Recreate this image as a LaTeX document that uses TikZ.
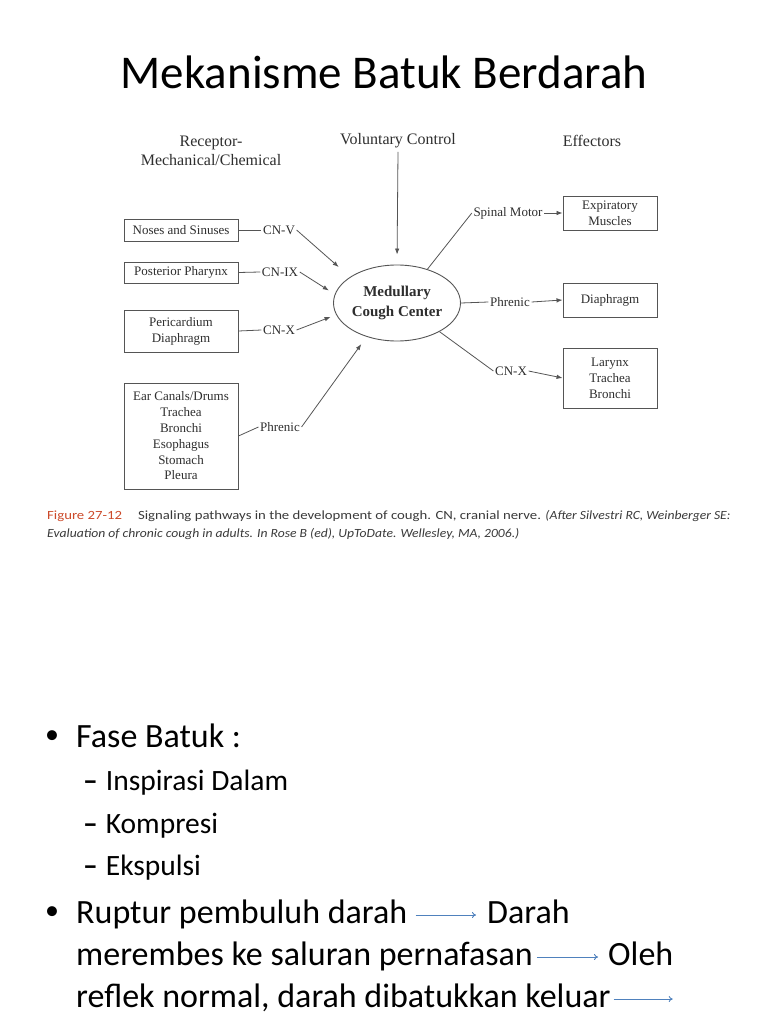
\documentclass[tikz,border=0pt]{standalone}
\usepackage{fontspec}
\setmainfont{Carlito}
\newfontfamily\figfont{Liberation Serif}
\newfontfamily\capfont[FakeStretch=1.18]{Carlito}
\newfontfamily\capitfont[FakeStretch=1.09]{Carlito}
\usetikzlibrary{arrows.meta, shapes.geometric, positioning}
\definecolor{figink} {HTML}{2E2E2E}
\definecolor{figline}{HTML}{555555}
\definecolor{figred} {HTML}{CC4A2A}
\definecolor{capink} {HTML}{3A3A3A}
\definecolor{arrowblue}{HTML}{4F81BD}
\newcommand{\capit}[1]{{\capitfont\itshape #1}}
\tikzset{
  rbox/.style   = {draw=figline, line width=0.9pt, minimum width=114pt,
                   align=center, inner sep=1pt, text=figink,
                   font=\figfont\fontsize{13}{15.8}\selectfont},
  ebox/.style   = {rbox, minimum width=94pt,
                   font=\figfont\fontsize{13}{16}\selectfont},
  nerve/.style  = {font=\figfont\fontsize{13}{15}\selectfont,
                   text=figink, inner sep=1.5pt},
  head/.style   = {font=\figfont\fontsize{16}{19}\selectfont,
                   text=figink, align=center},
  ln/.style     = {draw=figline, line width=0.8pt},
  arr/.style    = {ln, -{Latex[length=6pt,width=4.5pt]}},
  capt/.style   = {anchor=base west, inner sep=0pt, text=capink,
                   font=\capfont\fontsize{12.5}{15}\selectfont},
  bul/.style    = {anchor=base west, inner sep=0pt,
                   font=\fontsize{34}{40}\selectfont,
                   text height=23pt, text depth=7pt},
  subbul/.style = {bul, font=\fontsize{29.5}{35}\selectfont},
  dot/.style    = {bul, font=\fontsize{28}{32}\selectfont},
  barr/.style   = {-{To[length=4pt,width=6pt]}, draw=arrowblue,
                   line width=0.9pt},
}

\begin{document}
\begin{tikzpicture}[x=1pt, y=-1pt]

  \fill[white] (0,0) rectangle (768,1024);
  \useasboundingbox (0,0) rectangle (768,1024);

  % title
  \node[font=\fontsize{47}{56}\selectfont, anchor=base] (title) at (384,89)
    {Mekanisme Batuk Berdarah};

  % column heads
  \node[head] (rec) at (211,150.5) {Receptor-\\Mechanical/Chemical};
  \node[head] (vol) at (398,141) {Voluntary Control};
  \node[head] (eff) at (592,141) {Effectors};

  % receptors
  \node[rbox, minimum height=22pt] (noses) at (181,230) {Noses and Sinuses};
  \node[rbox, minimum height=21pt] (phar)  at (181,272.5) {Posterior Pharynx};
  \node[rbox, minimum height=42pt] (peri)  at (181,331) {Pericardium\\Diaphragm};
  \node[rbox, minimum height=106pt] (ear)  at (181,436)
    {Ear Canals/Drums\\Trachea\\Bronchi\\Esophagus\\Stomach\\Pleura};

  % afferent nerves
  \node[nerve] (cnv)  at (279,230) {CN-V};
  \node[nerve] (cnix) at (280,272) {CN-IX};
  \node[nerve] (cnx)  at (279,330) {CN-X};
  \node[nerve] (phrl) at (280,427) {Phrenic};

  % cough center
  \node[ellipse, draw=figline, line width=0.9pt, minimum width=127pt,
        minimum height=76pt, inner xsep=-3pt, inner ysep=0pt, align=center,
        font=\figfont\bfseries\fontsize{15}{20}\selectfont, text=figink]
    (core) at (397,303) {Medullary\\Cough Center};

  % efferent nerves
  \node[nerve] (spin) at (508,213) {Spinal Motor};
  \node[nerve] (phrr) at (510,302) {Phrenic};
  \node[nerve] (cnxr) at (511,371) {CN-X};

  % effectors
  \node[ebox, minimum height=34pt] (expi) at (610,213) {Expiratory\\Muscles};
  \node[ebox, minimum height=34pt] (diap) at (610,300) {Diaphragm};
  \node[ebox, minimum height=60pt] (lary) at (610,378) {Larynx\\Trachea\\Bronchi};

  % receptor side
  \draw[ln] (noses.east) -- (cnv.west);
  \draw[ln] (phar.east)  -- (cnix.west);
  \draw[ln] (peri.east)  -- (cnx.west);
  \draw[ln] (ear.east)   -- (phrl.west);
  \draw[arr, shorten >=15pt] (cnv.east)  -- (core.151);
  \draw[arr, shorten >=7pt]  (cnix.east) -- (core.172);
  \draw[arr, shorten >=6pt]  (cnx.east)  -- (core.191);
  \draw[arr, shorten >=9pt]  (phrl.east) -- (core.228);
  \draw[arr, shorten >=10pt] (vol.south) -- (core.north);

  % effector side
  \draw[ln] (core.48)  -- (spin.west);
  \draw[ln] (core.east) -- (phrr.west);
  \draw[ln] (core.326) -- (cnxr.west);
  \draw[arr] (spin.east) -- (expi.west);
  \draw[arr] (phrr.east) -- (diap.west);
  \draw[arr] (cnxr.east) -- (lary.west);

  % caption
  \node[capt] (cap1) at (47,519)
    {\textcolor{figred}{Figure 27-12}\hspace{16pt}Signaling pathways in the
     development of cough. CN, cranial nerve. \capit{(After Silvestri RC,
     Weinberger SE:}};
  \node[capt] (cap2) at (47,537)
    {\capit{Evaluation of chronic cough in adults. In Rose B (ed), UpToDate.
     Wellesley, MA, 2006.)}};

  % bullets
  \node[dot]  (dot1) at (45,743) {•};
  \node[bul]  (fase) at (76,747) {Fase Batuk :};
  \node[subbul] (insp) at (83,790) {\textbf{–}\hspace{8pt}Inspirasi Dalam};
  \node[subbul] (komp) at (83,833) {\textbf{–}\hspace{8pt}Kompresi};
  \node[subbul] (eksp) at (83,875) {\textbf{–}\hspace{8pt}Ekspulsi};

  \node[dot]  (dot2) at (45,919) {•};
  \node[bul]  (rupt) at (76,923) {Ruptur pembuluh darah};
  \node[bul]  (dara) at (487,923) {Darah};
  \node[bul]  (mere) at (76,965) {merembes ke saluran pernafasan};
  \node[bul]  (oleh) at (608,965) {Oleh};
  \node[bul]  (refl) at (76,1007) {reflek normal, darah dibatukkan keluar};
  \coordinate[right=62pt of refl.east] (kend);

  \draw[barr, shorten <=8pt, shorten >=11pt] (rupt.east) -- (dara.west);
  \draw[barr, shorten <=4pt, shorten >=10pt] (mere.east) -- (oleh.west);
  \draw[barr, shorten <=3pt] (refl.east) -- (kend);

\end{tikzpicture}
\end{document}
